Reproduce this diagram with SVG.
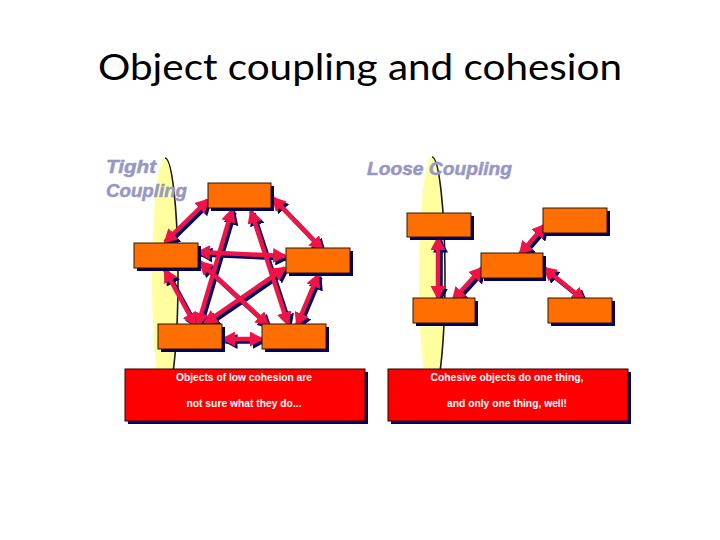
<svg xmlns="http://www.w3.org/2000/svg" width="720" height="540" viewBox="0 0 720 540">
<style>
.title{font-family:Lato,"Open Sans","Liberation Sans",sans-serif;font-size:37px;fill:#000}
.lbl{font-family:"Liberation Sans",Arial,sans-serif;font-weight:bold;font-style:italic;font-size:18px;fill:#9797C6;stroke:#9797C6;stroke-width:0.5}
.box{fill:#FF6E00;stroke:#2a1a00;stroke-width:1}
.shd{fill:#000066}
.note{fill:#FF0000;stroke:#2a0000;stroke-width:1}
.nt{font-family:"Liberation Sans",Arial,sans-serif;font-size:10.5px;font-weight:bold;fill:#fff;text-anchor:middle}
.ell{fill:#FFFFA0}
.rim{fill:none;stroke:#1a1a1a;stroke-width:1.6}
.a{fill:none;stroke:#EE1448;stroke-width:4.5;marker-start:url(#hr);marker-end:url(#hr)}
.as{fill:none;stroke:#000066;stroke-width:4.5;marker-start:url(#hs);marker-end:url(#hs)}
</style>
<defs>
<marker id="hr" viewBox="0 0 14 15" refX="12" refY="7.5" markerWidth="14" markerHeight="15" markerUnits="userSpaceOnUse" orient="auto-start-reverse"><path d="M0,0 L14,7.5 L0,15 Z" fill="#EE1448"/></marker>
<marker id="hs" viewBox="0 0 14 15" refX="12" refY="7.5" markerWidth="14" markerHeight="15" markerUnits="userSpaceOnUse" orient="auto-start-reverse"><path d="M0,0 L14,7.5 L0,15 Z" fill="#000066"/></marker>
</defs>
<rect width="720" height="540" fill="#fff"/>
<text class="title" x="98" y="80" textLength="524" lengthAdjust="spacingAndGlyphs">Object coupling and cohesion</text>

<g id="ellipse-left">
<ellipse class="ell" cx="165" cy="278" rx="13" ry="120"/>
<path class="rim" d="M165,158 A13,120 0 0 1 165,398"/>
</g>
<g id="ellipse-right">
<ellipse class="ell" cx="432" cy="277" rx="13" ry="120"/>
<path class="rim" d="M432,157 A13,120 0 0 1 432,397"/>
</g>

<g id="label-tight">
<text class="lbl" x="106" y="173" textLength="50" lengthAdjust="spacingAndGlyphs">Tight</text>
<text class="lbl" x="106" y="197" textLength="81" lengthAdjust="spacingAndGlyphs">Coupling</text>
</g>
<g id="label-loose">
<text class="lbl" x="367" y="175" textLength="145" lengthAdjust="spacingAndGlyphs">Loose Coupling</text>
</g>

<g id="connectors">
<g id="connector-shadows" transform="translate(2.5,2.5)">
<line class="as" x1="208" y1="200" x2="165" y2="242"/>
<line class="as" x1="273" y1="198" x2="322" y2="249"/>
<line class="as" x1="232" y1="210" x2="198" y2="325"/>
<line class="as" x1="251" y1="211" x2="288" y2="324"/>
<line class="as" x1="198" y1="252" x2="285" y2="256"/>
<line class="as" x1="165" y1="270" x2="195" y2="325"/>
<line class="as" x1="200" y1="262" x2="268" y2="325"/>
<line class="as" x1="285" y1="268" x2="205" y2="323"/>
<line class="as" x1="318" y1="275" x2="297" y2="325"/>
<line class="as" x1="223" y1="339" x2="262" y2="339"/>
<line class="as" x1="438" y1="238" x2="438" y2="298"/>
<line class="as" x1="482" y1="268" x2="453" y2="300"/>
<line class="as" x1="545" y1="225" x2="520" y2="254"/>
<line class="as" x1="544" y1="268" x2="584" y2="300"/>
</g>
<line class="a" x1="208" y1="200" x2="165" y2="242"/>
<line class="a" x1="273" y1="198" x2="322" y2="249"/>
<line class="a" x1="232" y1="210" x2="198" y2="325"/>
<line class="a" x1="251" y1="211" x2="288" y2="324"/>
<line class="a" x1="198" y1="252" x2="285" y2="256"/>
<line class="a" x1="165" y1="270" x2="195" y2="325"/>
<line class="a" x1="200" y1="262" x2="268" y2="325"/>
<line class="a" x1="285" y1="268" x2="205" y2="323"/>
<line class="a" x1="318" y1="275" x2="297" y2="325"/>
<line class="a" x1="223" y1="339" x2="262" y2="339"/>
<line class="a" x1="438" y1="238" x2="438" y2="298"/>
<line class="a" x1="482" y1="268" x2="453" y2="300"/>
<line class="a" x1="545" y1="225" x2="520" y2="254"/>
<line class="a" x1="544" y1="268" x2="584" y2="300"/>
</g>

<g id="t-top"><rect class="shd" x="211" y="186" width="63" height="25"/><rect class="box" x="208" y="183" width="63" height="25"/></g>
<g id="t-left"><rect class="shd" x="137" y="246" width="64" height="25"/><rect class="box" x="134" y="243" width="64" height="25"/></g>
<g id="t-right"><rect class="shd" x="289" y="251" width="64" height="25"/><rect class="box" x="286" y="248" width="64" height="25"/></g>
<g id="t-bottom-left"><rect class="shd" x="161" y="327" width="64" height="25"/><rect class="box" x="158" y="324" width="64" height="25"/></g>
<g id="t-bottom-right"><rect class="shd" x="265" y="327" width="64" height="25"/><rect class="box" x="262" y="324" width="64" height="25"/></g>

<g id="l-top-left"><rect class="shd" x="410" y="216" width="64" height="24"/><rect class="box" x="407" y="213" width="64" height="24"/></g>
<g id="l-top-right"><rect class="shd" x="546" y="211" width="64" height="25"/><rect class="box" x="543" y="208" width="64" height="25"/></g>
<g id="l-middle"><rect class="shd" x="484" y="256" width="62" height="25"/><rect class="box" x="481" y="253" width="62" height="25"/></g>
<g id="l-bottom-left"><rect class="shd" x="416" y="301" width="62" height="25"/><rect class="box" x="413" y="298" width="62" height="25"/></g>
<g id="l-bottom-right"><rect class="shd" x="551" y="301" width="64" height="25"/><rect class="box" x="548" y="298" width="64" height="25"/></g>

<g id="note-left">
<rect class="shd" x="128" y="372" width="240" height="52"/>
<rect class="note" x="125" y="369" width="240" height="52"/>
<text class="nt" x="244" y="381" textLength="136" lengthAdjust="spacingAndGlyphs">Objects of low cohesion are</text>
<text class="nt" x="244" y="407" textLength="115" lengthAdjust="spacingAndGlyphs">not sure what they do...</text>
</g>
<g id="note-right">
<rect class="shd" x="391" y="372" width="240" height="52"/>
<rect class="note" x="388" y="369" width="240" height="52"/>
<text class="nt" x="507" y="381" textLength="153" lengthAdjust="spacingAndGlyphs">Cohesive objects do one thing,</text>
<text class="nt" x="507" y="407" textLength="120" lengthAdjust="spacingAndGlyphs">and only one thing, well!</text>
</g>
</svg>
